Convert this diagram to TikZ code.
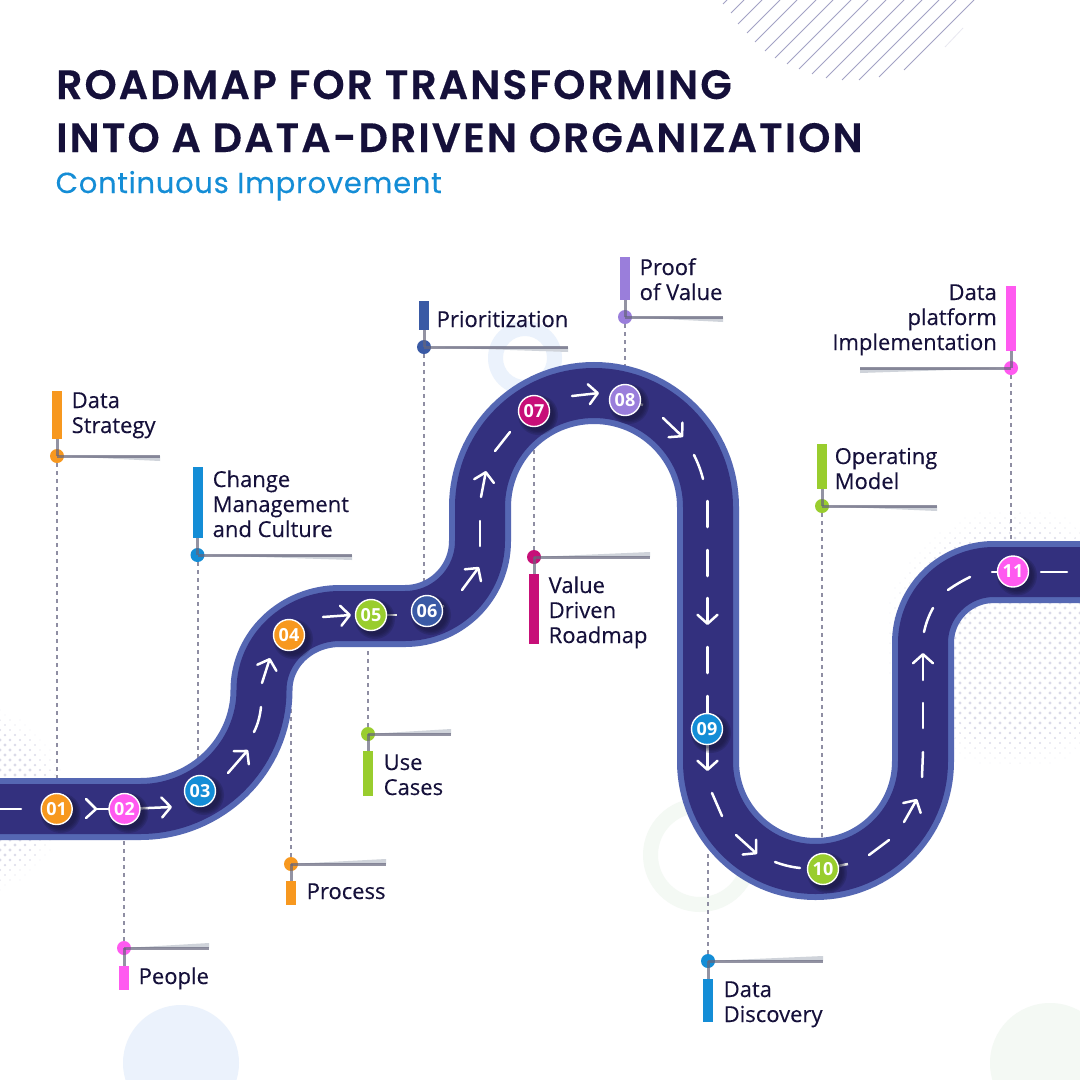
\documentclass[tikz,border=0pt]{standalone}
\usepackage{fontspec}
\usetikzlibrary{arrows.meta}
\setmainfont{Open Sans}[FakeBold=0.25]
\newfontfamily\badgefont{Open Sans}
\newfontfamily\titlefont{Poppins SemiBold}[LetterSpace=5,FakeBold=0.3]
\newfontfamily\subfont{Poppins}[LetterSpace=2.5,FakeBold=0.2]
\definecolor{ink}{HTML}{15103A}
\definecolor{skyblue}{HTML}{148DD6}
\definecolor{roadbase}{HTML}{33307E}
\definecolor{roadedge}{HTML}{5567B3}
\definecolor{corange}{HTML}{F7981F}
\definecolor{cpink}{HTML}{FF5AF0}
\definecolor{clime}{HTML}{99CD2E}
\definecolor{cnavy}{HTML}{3A5AA5}
\definecolor{ccrim}{HTML}{C70F78}
\definecolor{cpurp}{HTML}{9A7EDB}
\definecolor{guidegray}{HTML}{8F8EA3}
\definecolor{leadgray}{HTML}{66667C}
\definecolor{wedgegray}{HTML}{CFD3DA}
\definecolor{paleblue}{HTML}{EBF2FC}
\definecolor{palegreen}{HTML}{F4F9F4}
\tikzset{
  labeltext/.style={inner sep=0pt,text=ink,font=\fontsize{22}{25}\selectfont,align=left},
  roadmark/.style={draw=white,line width=2.5pt,line cap=round},
  roadarrow/.style={roadmark,-{Straight Barb[length=9pt,width=20pt,round]}},
  stub/.style={draw=white!80!gray,line width=2.5pt},
  guide/.style={draw=guidegray,line width=2pt,dash pattern=on 4pt off 4pt},
  lead/.style={draw=leadgray,line width=3pt,opacity=.7},
  badge/.style={circle,draw=white,line width=1.4pt,minimum size=31pt,inner sep=0pt,text=white,font=\badgefont\bfseries\fontsize{18}{18}\selectfont},
  enddot/.style={circle,minimum size=14pt,inner sep=0pt},
  barbox/.style={rectangle,minimum width=10pt,inner sep=0pt},
  halfdot/.style={fill=roadbase!18!white},
  hatch/.style={draw=roadbase!45!white,line width=.8pt}
}
% name colour dotx doty endx wedge barcentre barheight
\newcommand\callout[8]{%
  \fill[wedgegray] (#3,#4) -- (#5,#4+#6) -- (#5,#4) -- cycle;
  \node[enddot,fill=#2] (#1d) at (#3,#4) {};
  \coordinate (#1e) at (#5,#4);
  \node[barbox,fill=#2,minimum height=#8pt] (#1b) at (#3,#7) {};
  \draw[lead] (#1d.center) -- (#1e);
  \draw[lead] (#1d.center) -- (#1b);
}
\newcommand\halftone[3]{%
  \foreach \i in {-15,...,15}{\foreach \j in {-30,...,30}{%
    \pgfmathsetmacro\px{#1+10*\i+5*mod(abs(\j),2)}%
    \pgfmathsetmacro\py{#2+5*\j}%
    \pgfmathsetmacro\dd{veclen(\px-#1,\py-#2)/#3}%
    \ifdim\dd pt<1pt
      \pgfmathsetmacro\rr{.35+1.35*min(1,(1-\dd)*3)}%
      \fill[halfdot] (\px,\py) circle[radius=\rr pt];
    \fi}}}
\newcommand\softshadow[2]{%
  \foreach \s in {20,18.5,17,15.5}{\fill[black!55!roadbase,opacity=.22] (#1+4,#2+4) circle[radius=\s pt];}}
\begin{document}
\begin{tikzpicture}[x=1pt,y=-1pt]
\useasboundingbox (0,0) rectangle (1080,1080);
\clip (0,0) rectangle (1080,1080);
\fill[white] (0,0) rectangle (1080,1080);
% background decoration
\foreach \x/\y in {723/4,731/13,738/24,747/33,755/42,765/51,775/58,787/64,799/69,812/74,826/78,842/80,859/80,879/77,904/70}
  {\pgfmathsetmacro\cc{\x+\y}\draw[hatch] (\cc,0) -- (\x,\y);}
\draw[hatch,opacity=.25] (945,47) -- (963,28);
\halftone{-30}{800}{95}
\halftone{1015}{638}{130}
\fill[paleblue,even odd rule] (525,358) circle[radius=37pt] (525,358) circle[radius=22pt];
\fill[palegreen,even odd rule] (700,855) circle[radius=57pt] (700,855) circle[radius=42pt];
\fill[paleblue] (181,1063) circle[radius=58pt];
\fill[palegreen] (1050,1063) circle[radius=60pt];
% title
\node[anchor=base west,inner sep=0pt,text=ink,font=\titlefont\fontsize{41}{41}\selectfont] (t1) at (56,99) {ROADMAP FOR TRANSFORMING};
\node[anchor=base west,inner sep=0pt,text=ink,font=\titlefont\fontsize{41}{41}\selectfont] (t2) at (56,152) {INTO A DATA-DRIVEN ORGANIZATION};
\node[anchor=base west,inner sep=0pt,text=skyblue,font=\subfont\fontsize{29}{29}\selectfont] (t3) at (55.5,193) {Continuous Improvement};
% callouts
\callout{a}{corange}{57}{456}{160}{5}{415}{48}
\callout{b}{cpink}{124}{948}{209}{-5}{978}{24}
\callout{c}{skyblue}{197.5}{555}{352}{5}{502.5}{71}
\callout{d}{corange}{291}{864}{386}{-5}{893}{24}
\callout{e}{clime}{368}{734}{451}{-5}{773.5}{45}
\callout{f}{cnavy}{424}{347}{568}{5}{315.5}{29}
\callout{g}{ccrim}{534}{557}{650}{-5}{609}{70}
\callout{h}{cpurp}{625}{317}{723}{5}{278.5}{43}
\callout{i}{skyblue}{708}{961}{823}{-5}{1000.5}{43}
\callout{j}{clime}{822}{506}{937}{5}{466.5}{45}
\callout{k}{cpink}{1011}{368}{860}{5}{318.5}{65}
% guide lines to the road
\coordinate (ra) at (57,790); \coordinate (rb) at (124,830); \coordinate (rc) at (197.5,770);
\coordinate (rd) at (291,700); \coordinate (re) at (368,630); \coordinate (rf) at (424,600);
\coordinate (rg) at (534,420); \coordinate (rh) at (625,380); \coordinate (ri) at (708,850);
\coordinate (rj) at (822,850); \coordinate (rk) at (1011,560);
\foreach \n in {a,b,c,d,e,f,g,h,i,j,k}{\draw[guide] (\n d) -- (r\n);}
% road
\def\roadpath{(-5,809) -- (140,809) .. controls (206.8,809) and (261.5,755.7) .. (261.5,690)
  .. controls (261.5,649.1) and (296.6,616) .. (340,616) -- (405,616)
  .. controls (446.4,616) and (480,582.4) .. (480,541) -- (480,507)
  .. controls (480,444) and (531,393) .. (594,393)
  .. controls (657,393) and (708,444) .. (708,507) -- (708,761.5)
  .. controls (708,820.9) and (756.1,869) .. (815.5,869)
  .. controls (874.9,869) and (923,820.9) .. (923,761.5) -- (923,643)
  .. controls (923,603.8) and (954.8,572) .. (994,572) -- (1085,572)}
\draw[roadedge,line width=62pt] \roadpath;
\draw[roadbase,line width=50pt] \roadpath;
% road marks
\draw[roadmark] (0,809) -- (21,809);
\draw[roadmark] (86,799) -- (96,809) -- (86,818);
\draw[roadmark] (96,809) -- (112,809);
\draw[roadarrow] (125,809) -- (172,807);
\draw[roadarrow] (228,773) -- (248,750);
\draw[roadmark] (254,732) .. controls (258,724) and (260,716) .. (261,707);
\draw[roadarrow] (262,683) -- (270,658);
\draw[roadarrow] (323,617) -- (351,615);
\draw[stub] (371,615) -- (397,615);
\draw[stub] (427,611) -- (444,606);
\draw[roadarrow] (462,590) -- (479,567);
\draw[roadmark] (480,546) -- (480,521);
\draw[roadarrow] (481,497) -- (486,471);
\draw[roadmark] (495,451) -- (510,432);
\draw[stub] (534,411) -- (549,403);
\draw[roadarrow] (572,396) -- (599,393);
\draw[stub] (625,400) -- (643,405);
\draw[roadarrow] (663,418) -- (683,437);
\draw[roadmark] (694,455) .. controls (698,463) and (701,471) .. (703,479);
\draw[roadmark] (707.5,501) -- (707.5,527);
\draw[roadmark] (707.5,550) -- (707.5,576);
\draw[roadarrow] (707.5,598) -- (707.5,625);
\draw[roadmark] (707.5,647) -- (707.5,673);
\draw[roadmark] (707.5,696) -- (707.5,729);
\draw[roadarrow] (707.5,729) -- (707.5,771);
\draw[roadmark] (712,793) -- (722,816);
\draw[roadarrow] (736,835) -- (757,854);
\draw[roadmark] (775,862) .. controls (783,865) and (791,867) .. (800,868);
\draw[stub] (823,869) -- (848,864);
\draw[roadmark] (869,855) -- (889,840);
\draw[roadarrow] (904,822) -- (917,799);
\draw[roadmark] (922,777) -- (923,752);
\draw[roadmark] (923,728) -- (923,703);
\draw[roadarrow] (923,680) -- (923,653);
\draw[roadmark] (924,632) .. controls (926,623) and (929,615) .. (933,608);
\draw[roadmark] (948,590) .. controls (955,585) and (962,581) .. (970,577);
\draw[roadmark] (992,572) -- (1013,572);
\draw[roadmark] (1041,572) -- (1067,572);
% badges
\foreach \n/\x/\y/\c/\t in {1/56.7/809/corange/01,2/124.5/809/cpink/02,3/200/791/skyblue/03,4/289/635/corange/04,5/371/615/clime/05,6/427/611/cnavy/06,7/534/411/ccrim/07,8/625/400/cpurp/08,9/707/729/skyblue/09,10/823/869/clime/10,11/1013/571.5/cpink/11}{
  \softshadow{\x}{\y}
  \node[badge,fill=\c] (n\n) at (\x,\y) {\t};
}
% labels (the base anchor of a multi-line node is its last line)
\node[labeltext,anchor=base west] (la) at (71.5,433) {Data\\Strategy};
\node[labeltext,anchor=base west] (lb) at (138.5,984) {People};
\node[labeltext,anchor=base west] (lc) at (212.5,537) {Change\\Management\\and Culture};
\node[labeltext,anchor=base west] (ld) at (306.5,899) {Process};
\node[labeltext,anchor=base west] (le) at (383.5,795) {Use\\Cases};
\node[labeltext,anchor=base west] (lf) at (436.5,327) {Prioritization};
\node[labeltext,anchor=base west] (lg) at (548.5,643) {Value\\Driven\\Roadmap};
\node[labeltext,anchor=base west] (lh) at (639.5,300) {Proof\\of Value};
\node[labeltext,anchor=base west] (li) at (723.5,1022) {Data\\Discovery};
\node[labeltext,anchor=base west] (lj) at (834.5,489) {Operating\\Model};
\node[labeltext,anchor=base east,align=right] (lk) at (997,350) {Data\\platform\\Implementation};
\end{tikzpicture}
\end{document}
